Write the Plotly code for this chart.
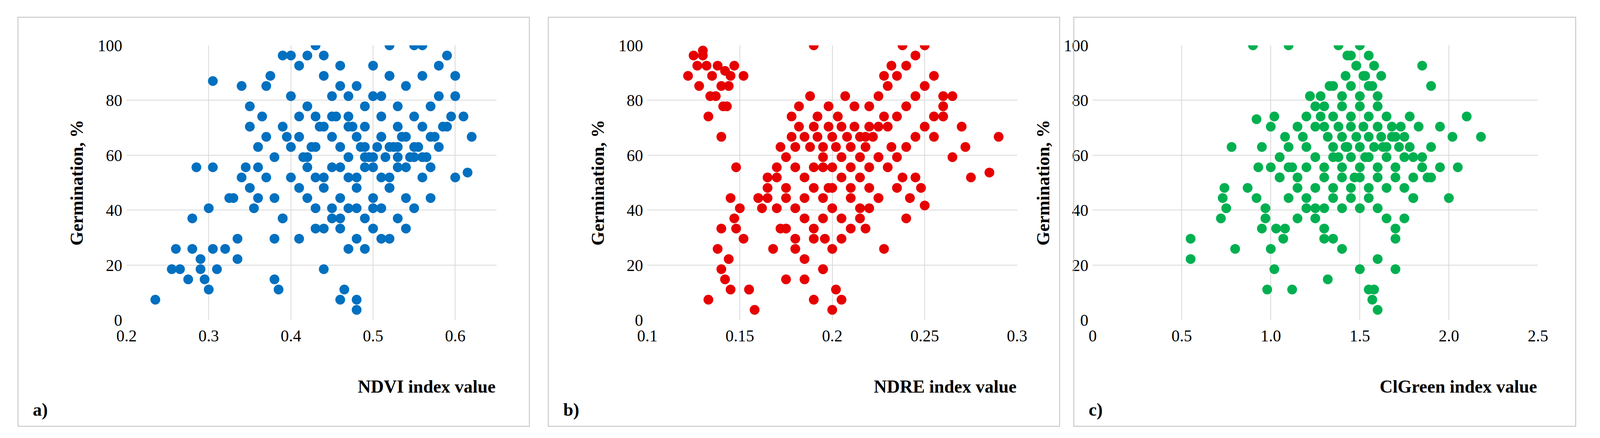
import plotly.graph_objects as go

# germination levels are multiples of 100/27
ndvi_x = [0.235, 0.255, 0.26, 0.265, 0.275, 0.28, 0.28, 0.285, 0.29, 0.295, 0.29, 0.30, 0.30, 0.305, 0.305, 0.305,
          0.31, 0.32, 0.325, 0.33, 0.335, 0.335, 0.34, 0.34, 0.345, 0.35, 0.35, 0.355, 0.36, 0.37, 0.375, 0.38,
          0.385, 0.38, 0.39, 0.40, 0.41, 0.42, 0.43, 0.44, 0.46, 0.465, 0.48, 0.48, 0.44, 0.52, 0.55, 0.56,
          0.59, 0.61, 0.62, 0.60, 0.615, 0.57, 0.36, 0.37, 0.38, 0.39, 0.40, 0.41, 0.42, 0.43, 0.44, 0.45,
          0.46, 0.47, 0.48, 0.49, 0.50, 0.51, 0.52, 0.53, 0.54, 0.55, 0.56, 0.57, 0.58, 0.40, 0.42, 0.44,
          0.46, 0.48, 0.50, 0.52, 0.54, 0.56, 0.41, 0.43, 0.45, 0.47, 0.49, 0.51, 0.53, 0.55, 0.57, 0.42,
          0.44, 0.46, 0.48, 0.50, 0.52, 0.54, 0.56, 0.43, 0.45, 0.47, 0.49, 0.51, 0.53, 0.55, 0.44, 0.46,
          0.48, 0.50, 0.52, 0.54, 0.45, 0.47, 0.49, 0.51, 0.53, 0.46, 0.48, 0.50, 0.52, 0.47, 0.49, 0.51,
          0.38, 0.39, 0.41, 0.43, 0.45, 0.47, 0.49, 0.51, 0.53, 0.55, 0.57, 0.59, 0.58, 0.60, 0.36, 0.37,
          0.40, 0.42, 0.44, 0.46, 0.50, 0.52, 0.54, 0.56, 0.58, 0.60, 0.39, 0.41, 0.43, 0.45, 0.47, 0.49,
          0.51, 0.53, 0.50, 0.52, 0.48, 0.46, 0.35, 0.365, 0.395, 0.415, 0.425, 0.435, 0.455, 0.475, 0.485, 0.495,
          0.505, 0.515, 0.525, 0.535, 0.545, 0.555, 0.565, 0.575, 0.585, 0.595]
ndvi_y = [7.4, 18.5, 25.9, 18.5, 14.8, 37.0, 25.9, 55.6, 18.5, 14.8, 22.2, 11.1, 40.7, 55.6, 25.9, 87.0,
          18.5, 25.9, 44.4, 44.4, 22.2, 29.6, 85.2, 51.9, 55.6, 77.8, 48.1, 40.7, 63.0, 85.2, 88.9, 14.8,
          11.1, 29.6, 96.3, 96.3, 92.6, 96.3, 100.0, 96.3, 7.4, 11.1, 7.4, 3.7, 18.5, 100.0, 100.0, 100.0,
          96.3, 74.1, 66.7, 51.9, 53.7, 44.4, 55.6, 66.7, 59.3, 70.4, 63.0, 66.7, 59.3, 63.0, 70.4, 66.7,
          63.0, 59.3, 66.7, 63.0, 59.3, 66.7, 63.0, 59.3, 66.7, 63.0, 70.4, 66.7, 63.0, 51.9, 55.6, 51.9,
          55.6, 51.9, 55.6, 51.9, 55.6, 59.3, 74.1, 74.1, 74.1, 74.1, 70.4, 74.1, 70.4, 74.1, 77.8, 44.4,
          48.1, 44.4, 48.1, 44.4, 48.1, 44.4, 51.9, 40.7, 37.0, 40.7, 37.0, 40.7, 37.0, 40.7, 33.3, 33.3,
          29.6, 33.3, 29.6, 33.3, 81.5, 81.5, 77.8, 81.5, 77.8, 85.2, 85.2, 81.5, 88.9, 25.9, 25.9, 29.6,
          44.4, 37.0, 29.6, 33.3, 40.7, 70.4, 59.3, 66.7, 63.0, 59.3, 55.6, 70.4, 81.5, 88.9, 44.4, 51.9,
          81.5, 77.8, 88.9, 92.6, 92.6, 88.9, 85.2, 88.9, 92.6, 81.5, 37.0, 48.1, 51.9, 55.6, 51.9, 55.6,
          51.9, 55.6, 40.7, 48.1, 40.7, 37.0, 70.4, 74.1, 66.7, 59.3, 63.0, 70.4, 74.1, 70.4, 63.0, 59.3,
          63.0, 59.3, 63.0, 66.7, 59.3, 63.0, 59.3, 66.7, 70.4, 74.1]

ndre_x = [0.122, 0.125, 0.127, 0.128, 0.13, 0.132, 0.133, 0.135, 0.137, 0.138, 0.14, 0.142, 0.143, 0.145, 0.147, 0.13,
          0.134, 0.14, 0.144, 0.141, 0.152, 0.133, 0.138, 0.14, 0.142, 0.144, 0.145, 0.147, 0.148, 0.15, 0.152, 0.155,
          0.14, 0.145, 0.148, 0.16, 0.165, 0.17, 0.172, 0.175, 0.178, 0.18, 0.182, 0.185, 0.188, 0.19, 0.192, 0.195,
          0.198, 0.20, 0.202, 0.205, 0.208, 0.21, 0.212, 0.215, 0.218, 0.22, 0.222, 0.225, 0.228, 0.23, 0.165, 0.17,
          0.175, 0.18, 0.185, 0.19, 0.195, 0.20, 0.205, 0.21, 0.215, 0.22, 0.225, 0.17, 0.175, 0.18, 0.185, 0.19,
          0.195, 0.20, 0.205, 0.21, 0.215, 0.22, 0.175, 0.18, 0.185, 0.19, 0.195, 0.20, 0.205, 0.21, 0.18, 0.185,
          0.19, 0.195, 0.20, 0.205, 0.21, 0.215, 0.22, 0.225, 0.23, 0.235, 0.24, 0.245, 0.25, 0.255, 0.26, 0.265,
          0.27, 0.22, 0.225, 0.23, 0.235, 0.24, 0.245, 0.25, 0.255, 0.26, 0.235, 0.24, 0.245, 0.25, 0.255, 0.26,
          0.228, 0.232, 0.238, 0.242, 0.248, 0.19, 0.20, 0.29, 0.285, 0.275, 0.272, 0.265, 0.168, 0.172, 0.178, 0.182,
          0.188, 0.192, 0.198, 0.203, 0.207, 0.212, 0.218, 0.225, 0.232, 0.238, 0.16, 0.175, 0.185, 0.195, 0.205, 0.215,
          0.225, 0.235, 0.245, 0.195, 0.198, 0.202, 0.19, 0.155, 0.158, 0.162, 0.165, 0.196, 0.218, 0.228, 0.24, 0.25]
ndre_y = [88.9, 96.3, 92.6, 85.2, 98.1, 92.6, 74.1, 88.9, 81.5, 92.6, 85.2, 90.7, 77.8, 88.9, 92.6, 96.3,
          81.5, 66.7, 85.2, 77.8, 88.9, 7.4, 25.9, 18.5, 14.8, 22.2, 11.1, 37.0, 55.6, 40.7, 29.6, 11.1,
          33.3, 44.4, 33.3, 44.4, 51.9, 55.6, 63.0, 59.3, 66.7, 63.0, 70.4, 66.7, 63.0, 70.4, 66.7, 63.0,
          70.4, 66.7, 63.0, 70.4, 66.7, 63.0, 70.4, 66.7, 63.0, 70.4, 66.7, 70.4, 74.1, 70.4, 48.1, 51.9,
          48.1, 55.6, 51.9, 55.6, 59.3, 55.6, 59.3, 55.6, 59.3, 55.6, 59.3, 40.7, 44.4, 40.7, 44.4, 48.1,
          44.4, 48.1, 51.9, 48.1, 51.9, 48.1, 33.3, 29.6, 37.0, 33.3, 37.0, 40.7, 37.0, 44.4, 25.9, 22.2,
          29.6, 18.5, 25.9, 29.6, 33.3, 37.0, 40.7, 44.4, 55.6, 59.3, 63.0, 66.7, 70.4, 74.1, 77.8, 81.5,
          70.4, 77.8, 81.5, 85.2, 88.9, 92.6, 96.3, 100.0, 88.9, 81.5, 74.1, 77.8, 81.5, 85.2, 66.7, 74.1,
          88.9, 92.6, 100.0, 44.4, 48.1, 100.0, 3.7, 66.7, 53.7, 51.9, 63.0, 59.3, 25.9, 33.3, 74.1, 77.8,
          81.5, 74.1, 77.8, 74.1, 81.5, 77.8, 66.7, 59.3, 63.0, 51.9, 44.4, 14.8, 14.8, 18.5, 7.4, 40.7,
          44.4, 48.1, 51.9, 55.6, 48.1, 11.1, 7.4, 11.1, 3.7, 40.7, 44.4, 29.6, 33.3, 25.9, 37.0, 41.7,
          44.4, 51.9, 53.7, 59.3, 63.0, 66.7]

cigreen_x = [0.55, 0.55, 0.72, 0.73, 0.74, 0.75, 0.78, 0.80, 0.87, 0.90, 0.92, 0.93, 0.95, 0.97, 1.00, 1.00,
             1.02, 1.05, 1.05, 1.08, 1.10, 1.10, 1.12, 1.15, 1.18, 1.20, 1.22, 1.25, 1.28, 1.30, 1.32, 1.35,
             1.38, 1.40, 1.42, 1.45, 1.48, 1.50, 1.52, 1.55, 1.58, 1.60, 1.62, 1.65, 1.68, 1.70, 1.72, 1.75,
             1.78, 1.80, 1.85, 1.90, 1.95, 2.00, 2.05, 2.10, 2.18, 1.05, 1.10, 1.15, 1.20, 1.25, 1.30, 1.35,
             1.40, 1.45, 1.50, 1.55, 1.60, 1.65, 1.70, 1.75, 1.80, 1.85, 1.90, 1.10, 1.15, 1.20, 1.25, 1.30,
             1.35, 1.40, 1.45, 1.50, 1.55, 1.60, 1.65, 1.70, 1.75, 1.80, 1.15, 1.20, 1.25, 1.30, 1.35, 1.40,
             1.45, 1.50, 1.55, 1.60, 1.65, 1.70, 1.20, 1.25, 1.30, 1.35, 1.40, 1.45, 1.50, 1.55, 1.60, 1.65,
             1.35, 1.40, 1.45, 1.50, 1.55, 1.60, 1.42, 1.48, 1.52, 1.58, 1.45, 1.50, 1.55, 1.38, 1.43, 1.48,
             1.53, 1.57, 1.62, 1.55, 1.57, 1.60, 1.58, 1.02, 1.00, 0.98, 1.08, 1.30, 1.32, 1.12, 1.35, 0.95,
             1.70, 1.75, 1.85, 1.90, 1.95, 2.02, 1.80, 1.25, 1.30, 1.40, 1.50, 1.60, 1.70, 1.22, 1.28, 1.33,
             1.38, 1.43, 1.47, 1.53, 1.63, 1.68, 1.73, 1.78, 1.83, 1.88, 0.92, 0.97, 1.03, 1.07]
cigreen_y = [22.2, 29.6, 37.0, 44.4, 48.1, 40.7, 63.0, 25.9, 48.1, 100.0, 73.1, 55.6, 63.0, 40.7, 70.4, 55.6,
             74.1, 59.3, 51.9, 66.7, 100.0, 63.0, 55.6, 70.4, 66.7, 63.0, 81.5, 77.8, 74.1, 70.4, 66.7, 63.0,
             70.4, 66.7, 63.0, 70.4, 66.7, 63.0, 70.4, 66.7, 63.0, 70.4, 66.7, 63.0, 70.4, 66.7, 63.0, 66.7,
             63.0, 59.3, 59.3, 63.0, 55.6, 44.4, 55.6, 74.1, 66.7, 51.9, 55.6, 51.9, 55.6, 59.3, 55.6, 59.3,
             55.6, 59.3, 55.6, 59.3, 55.6, 59.3, 55.6, 59.3, 51.9, 55.6, 51.9, 44.4, 48.1, 44.4, 48.1, 51.9,
             48.1, 51.9, 48.1, 51.9, 48.1, 51.9, 48.1, 51.9, 48.1, 44.4, 37.0, 40.7, 37.0, 40.7, 44.4, 40.7,
             44.4, 40.7, 44.4, 40.7, 37.0, 33.3, 74.1, 70.4, 77.8, 74.1, 77.8, 74.1, 77.8, 74.1, 77.8, 74.1,
             85.2, 81.5, 85.2, 81.5, 85.2, 81.5, 88.9, 92.6, 88.9, 92.6, 96.3, 100.0, 96.3, 100.0, 96.3, 92.6,
             88.9, 85.2, 88.9, 11.1, 7.4, 3.7, 11.1, 18.5, 25.9, 11.1, 33.3, 29.6, 14.8, 11.1, 29.6, 33.3,
             29.6, 37.0, 92.6, 85.2, 70.4, 66.7, 44.4, 40.7, 33.3, 25.9, 18.5, 22.2, 18.5, 81.5, 81.5, 85.2,
             59.3, 63.0, 51.9, 59.3, 63.0, 66.7, 70.4, 74.1, 70.4, 51.9, 44.4, 37.0, 33.3, 29.6, 25.9]

panels = [
    (ndvi_x, ndvi_y, '#0070C0', 'NDVI index value', 'a)', [0.2, 0.65], 0.1, [0.072, 0.307], [0.003, 0.328]),
    (ndre_x, ndre_y, '#E60000', 'NDRE index value', 'b)', [0.1, 0.3], 0.05, [0.403, 0.638], [0.340, 0.665]),
    (cigreen_x, cigreen_y, '#00B050', 'ClGreen index value', 'c)', [0, 2.5], 0.5, [0.686, 0.969], [0.674, 0.993]),
]

fnt = 'Liberation Serif, Times New Roman, serif'
fig = go.Figure()
shapes, annotations = [], []
for i, (xs, ys, col, xlab, tag, xr, dt, dom, box) in enumerate(panels):
    sfx = '' if i == 0 else str(i + 1)
    fig.add_trace(go.Scatter(x=xs, y=ys, mode='markers', xaxis='x' + sfx, yaxis='y' + sfx,
                             marker=dict(color=col, size=25, line=dict(width=0)), showlegend=False))
    fig.update_layout(**{
        'xaxis' + sfx: dict(domain=dom, range=xr, dtick=dt, tick0=0, anchor='y' + sfx, showgrid=True,
                            gridcolor='#D9D9D9', gridwidth=2, zeroline=False, showline=False,
                            tickfont=dict(size=42, family=fnt, color='#000'), ticks='',
                            ticklabelstandoff=12),
        'yaxis' + sfx: dict(domain=[0.266, 0.92], range=[0, 100], dtick=20, anchor='x' + sfx,
                            gridcolor='#D9D9D9', gridwidth=2, zeroline=False, showline=False,
                            tickfont=dict(size=42, family=fnt, color='#000'), ticklabelstandoff=10,
                            title=dict(text='<b>Germination, %</b>', font=dict(size=46, family=fnt, color='#000'),
                                       standoff=22)),
    })
    if i == 2:
        fig.update_layout(xaxis3_tickvals=[0, 0.5, 1, 1.5, 2, 2.5],
                          xaxis3_ticktext=['0', '0.5', '1.0', '1.5', '2.0', '2.5'])
    shapes.append(dict(type='rect', xref='paper', yref='paper', x0=box[0], x1=box[1], y0=0.013, y1=0.987,
                       line=dict(color='#BFBFBF', width=2)))
    annotations.append(dict(xref='paper', yref='paper', x=dom[1], y=0.108, xanchor='right', yanchor='middle',
                            text='<b>%s</b>' % xlab, showarrow=False, font=dict(size=46, family=fnt, color='#000')))
    annotations.append(dict(xref='paper', yref='paper', x=box[0] + 0.009, y=0.053, xanchor='left', yanchor='middle',
                            text='<b>%s</b>' % tag, showarrow=False, font=dict(size=46, family=fnt, color='#000')))

fig.update_layout(autosize=True, height=1120, margin=dict(l=0, r=0, t=0, b=0),
                  plot_bgcolor='white', paper_bgcolor='white', shapes=shapes, annotations=annotations)
fig.write_html("out.html", default_width='100%', default_height='1120px')
